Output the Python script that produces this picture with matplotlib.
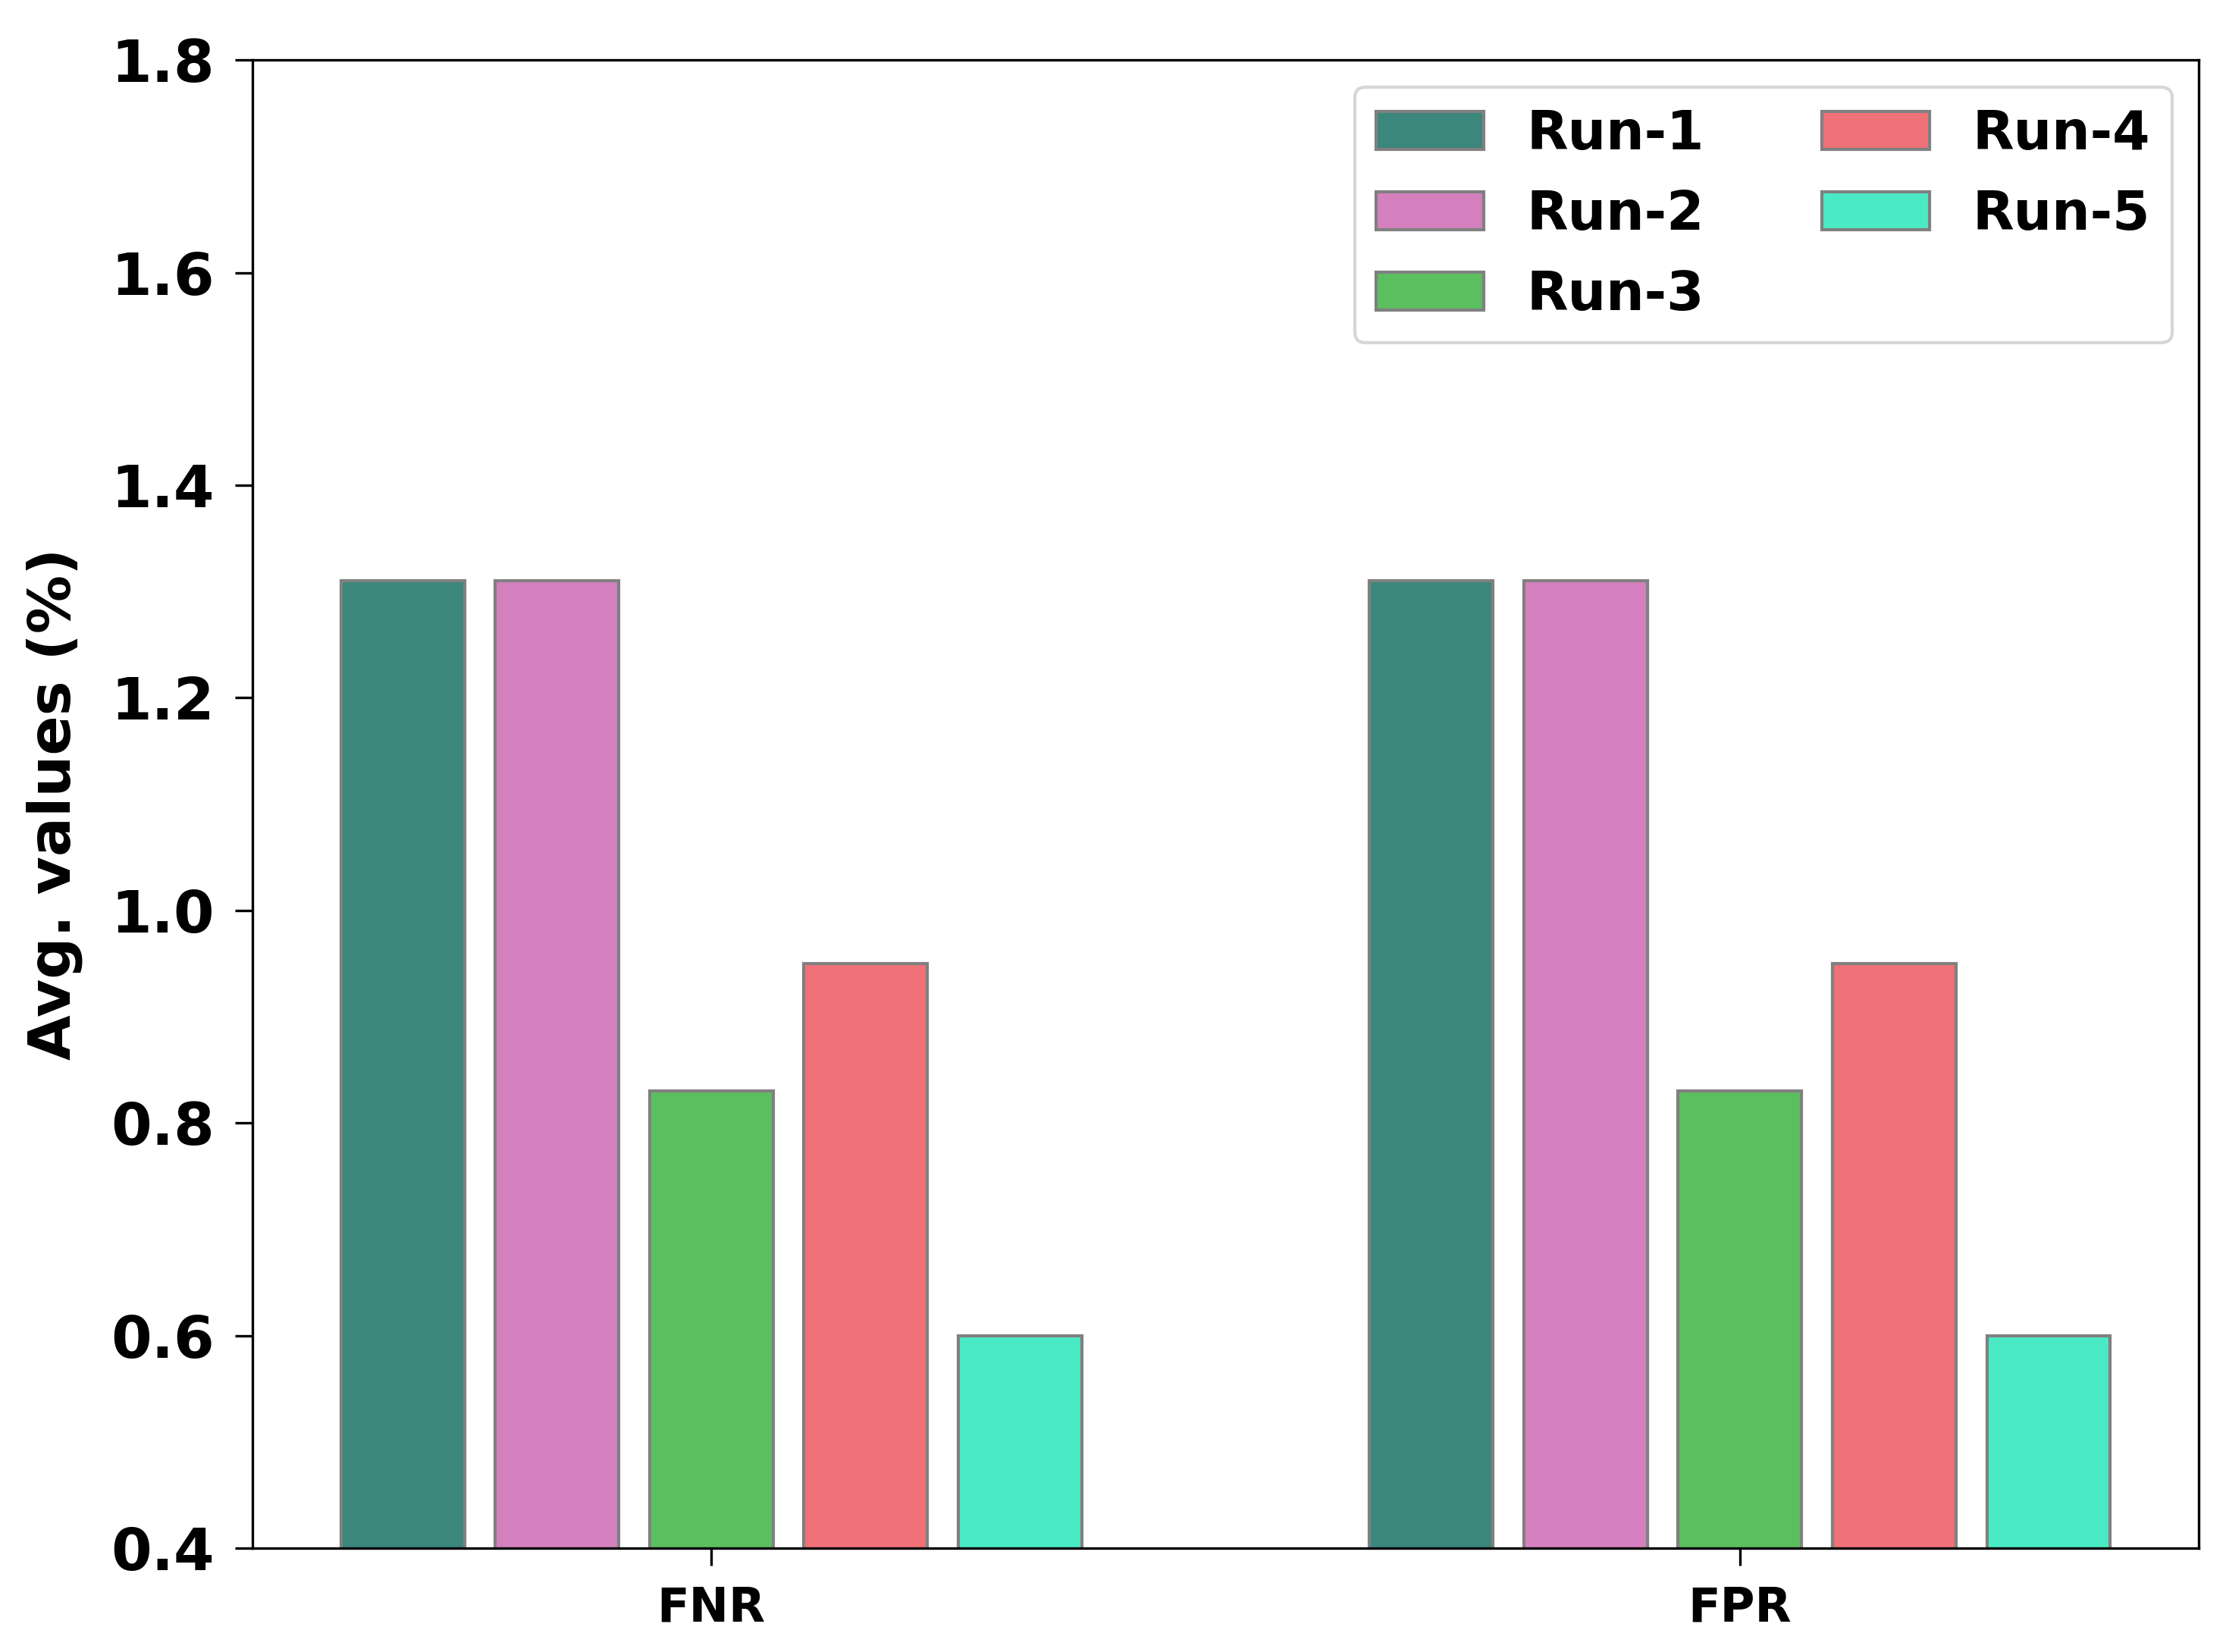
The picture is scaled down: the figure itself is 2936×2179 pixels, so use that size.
import numpy as np
import matplotlib
matplotlib.use("Agg")
import matplotlib.pyplot as plt

# data
metrics = ["FNR", "FPR"]
runs = ["Run-1", "Run-2", "Run-3", "Run-4", "Run-5"]
run1 = [1.31, 1.31]
run2 = [1.31, 1.31]
run3 = [0.83, 0.83]
run4 = [0.95, 0.95]
run5 = [0.60, 0.60]
run_colors = ["#3b877b", "#d580be", "#5cbf5f", "#f07177", "#4aebc4"]

plt.rcParams["font.family"] = ["DejaVu Sans"]
plt.rcParams["font.weight"] = "bold"

fig = plt.figure(figsize=(2937 / 300, 2179 / 300), dpi=300)
ax = fig.add_axes([0.1134, 0.0629, 0.8740, 0.9008])

x = np.arange(len(metrics))
pitch = 0.15
width = 0.12
series = [run1, run2, run3, run4, run5]
for i, (vals, lab, col) in enumerate(zip(series, runs, run_colors)):
    ax.bar(x + (i - 2) * pitch, vals, width, color=col, edgecolor="gray",
           linewidth=1.0, label=lab)

ax.set_ylim(0.4, 1.8)
ax.set_yticks(np.arange(0.4, 1.81, 0.2))
ax.set_yticklabels([f"{v:.1f}" for v in np.arange(0.4, 1.81, 0.2)],
                   fontsize=18.5, fontweight="bold")
ax.set_xticks(x)
ax.set_xticklabels(metrics, fontsize=15, fontweight="bold")
ax.tick_params(axis="both", length=5.5, pad=6.5)
ax.set_ylabel("Avg. values (%)", fontsize=18.5, fontweight="bold", labelpad=9)

ax.legend(loc="upper right", ncol=2, prop={"size": 17, "weight": "bold"},
          labelspacing=0.52, columnspacing=2.2)

fig.savefig("out.png", dpi=300)
